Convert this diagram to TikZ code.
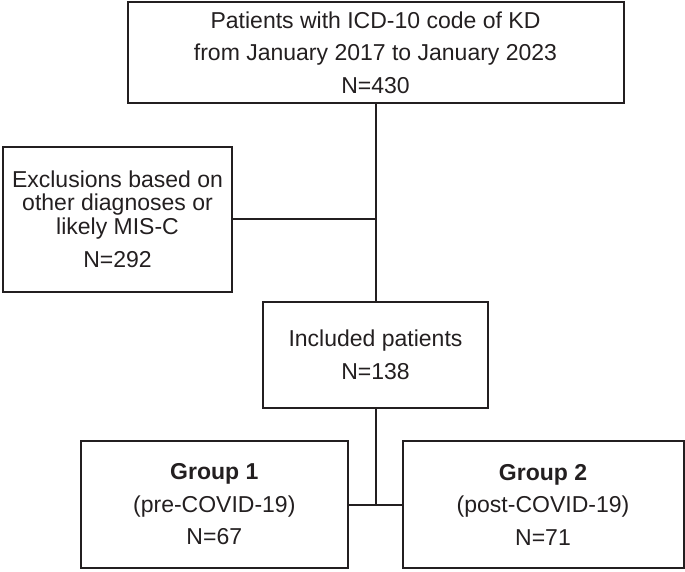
\documentclass[tikz,border=0pt]{standalone}
\usepackage{fontspec}
\setmainfont{Liberation Sans}
\definecolor{ink}{HTML}{231F20}
\begin{document}
\begin{tikzpicture}[x=1pt,y=-1pt,
  box/.style={draw=ink,line width=2pt,rectangle,inner sep=0pt,align=center,text=ink,
    font=\fontsize{23}{32.5}\selectfont},
  link/.style={draw=ink,line width=2pt}]
\useasboundingbox (0,0) rectangle (685,571);
\node[box,minimum width=496pt,minimum height=101pt] (top) at (375.5,52.5)
  {Patients with ICD-10 code of KD\\from January 2017 to January 2023\\N=430};
\node[box,minimum width=229.5pt,minimum height=145.5pt,
  font=\fontsize{23}{23.5}\selectfont] (exc) at (117.5,219.3)
  {Exclusions based on\\other diagnoses or\\likely MIS-C\\[10pt]N=292};
\node[box,minimum width=225pt,minimum height=106pt] (inc) at (375.5,355)
  {Included patients\\N=138};
\node[box,minimum width=267.5pt,minimum height=127pt] (g1) at (214.3,504.5)
  {\textbf{Group 1}\\(pre-COVID-19)\\N=67};
\node[box,minimum width=281pt,minimum height=127pt] (g2) at (543,504.5)
  {\textbf{Group 2}\\(post-COVID-19)\\N=71};
\draw[link] (top.south) -- (inc.north);
\draw[link] (exc.east) -- (exc.east -| top.south);
\draw[link] (inc.south) -- (inc.south |- g1.east);
\draw[link] (g1.east) -- (g2.west);
\end{tikzpicture}
\end{document}
